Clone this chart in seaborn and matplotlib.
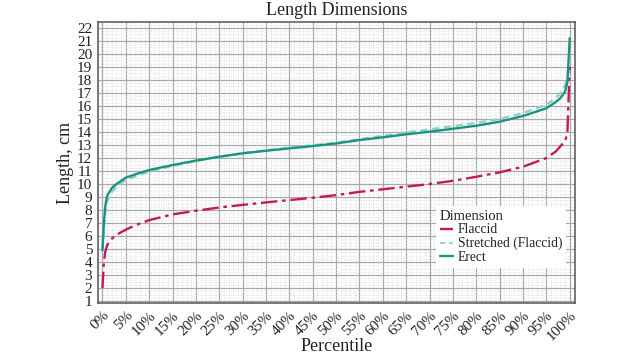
import numpy as np
import pandas as pd
import matplotlib
matplotlib.use('Agg')
import matplotlib.pyplot as plt
import seaborn as sns
from matplotlib.ticker import MultipleLocator, FuncFormatter

# percentile grid shared by the three curves
percentile = [0, 0.3, 0.6, 1, 2, 3, 5, 7.5, 10, 15, 20, 25, 30, 35, 40, 45,
              50, 55, 60, 65, 70, 75, 80, 85, 90, 95, 97, 98, 99, 99.5, 100]

flaccid = [2.0, 4.0, 4.8, 5.3, 5.8, 6.1, 6.5, 6.9, 7.23, 7.67, 7.95, 8.2, 8.4,
           8.59, 8.77, 8.95, 9.15, 9.4, 9.6, 9.8, 10.0, 10.25, 10.56, 10.9,
           11.33, 12.0, 12.5, 12.9, 13.3, 13.9, 19.0]
stretched = [4.9, 6.5, 7.8, 8.7, 9.4, 9.8, 10.3, 10.65, 10.95, 11.4, 11.78,
             12.1, 12.37, 12.6, 12.8, 12.98, 13.17, 13.45, 13.7, 13.97, 14.2,
             14.45, 14.7, 15.0, 15.45, 16.1, 16.6, 17.0, 17.6, 18.2, 18.8]
erect = [4.9, 7.0, 8.3, 9.1, 9.7, 10.0, 10.5, 10.8, 11.08, 11.46, 11.8, 12.1,
         12.36, 12.56, 12.74, 12.92, 13.12, 13.38, 13.59, 13.82, 14.02, 14.25,
         14.48, 14.79, 15.23, 15.82, 16.3, 16.6, 17.1, 17.8, 21.2]

series_names = ['Flaccid', 'Stretched (Flaccid)', 'Erect']

df = pd.concat([
    pd.DataFrame({'Percentile': percentile, 'Length': vals, 'Dimension': name})
    for name, vals in zip(series_names, [flaccid, stretched, erect])
])

sns.set_style('white')
plt.rcParams['font.family'] = ['Liberation Serif', 'DejaVu Serif']

palette = {'Flaccid': '#c4185f', 'Stretched (Flaccid)': '#8ed2c4', 'Erect': '#1a937f'}
dashes = {'Flaccid': (7, 2, 1.5, 2), 'Stretched (Flaccid)': (3, 2), 'Erect': ''}

fig = plt.figure(figsize=(6.35, 3.55), dpi=100)
ax = fig.add_axes([0.154, 0.146, 0.752, 0.792])

sns.lineplot(data=df, x='Percentile', y='Length', hue='Dimension',
             style='Dimension', palette=palette, dashes=dashes,
             hue_order=series_names, style_order=series_names,
             ax=ax, linewidth=1.7, zorder=3)
for line in ax.lines:
    if line.get_label() == 'Stretched (Flaccid)':
        line.set_linewidth(1.3)

ax.set_xlim(-1, 101.2)
ax.set_ylim(0.85, 22.45)
ax.xaxis.set_major_locator(MultipleLocator(5))
ax.xaxis.set_minor_locator(MultipleLocator(1))
ax.yaxis.set_major_locator(MultipleLocator(1))
ax.yaxis.set_minor_locator(MultipleLocator(0.25))
ax.xaxis.set_major_formatter(FuncFormatter(lambda v, p: '{:.0f}%'.format(v)))

ax.grid(which='major', color='#a8a8a8', linewidth=0.9, linestyle='-', zorder=0)
ax.grid(which='minor', color='#d6d6d6', linewidth=0.6, linestyle=(0, (1, 2)), zorder=0)
ax.set_axisbelow(True)

for s in ax.spines.values():
    s.set_color('#555555')
    s.set_linewidth(1.1)

ax.tick_params(axis='both', which='major', length=3, width=0.8, color='#555555',
               labelsize=11, pad=1, labelcolor='#222222')
ax.tick_params(axis='both', which='minor', length=0)
plt.setp(ax.get_xticklabels(), rotation=45, ha='right', rotation_mode='anchor')

ax.set_title('Length Dimensions', fontsize=13, color='#222222', pad=5)
ax.set_xlabel('Percentile', fontsize=13, color='#222222')
ax.xaxis.set_label_coords(0.5, -0.155)
ax.xaxis.label.set_va('center')
ax.set_ylabel('Length, cm', fontsize=13, color='#222222', labelpad=2)

handles, labels = ax.get_legend_handles_labels()
leg = ax.legend(handles, labels, title='Dimension', loc='lower right',
                bbox_to_anchor=(0.995, 0.1), fontsize=9.8, title_fontsize=10.5,
                frameon=True, framealpha=1, edgecolor='white', fancybox=False,
                handlelength=1.0, handletextpad=0.3, labelspacing=0.05,
                borderpad=0.3, alignment='left')
leg.get_frame().set_linewidth(0)

fig.savefig('out.png', dpi=100)
